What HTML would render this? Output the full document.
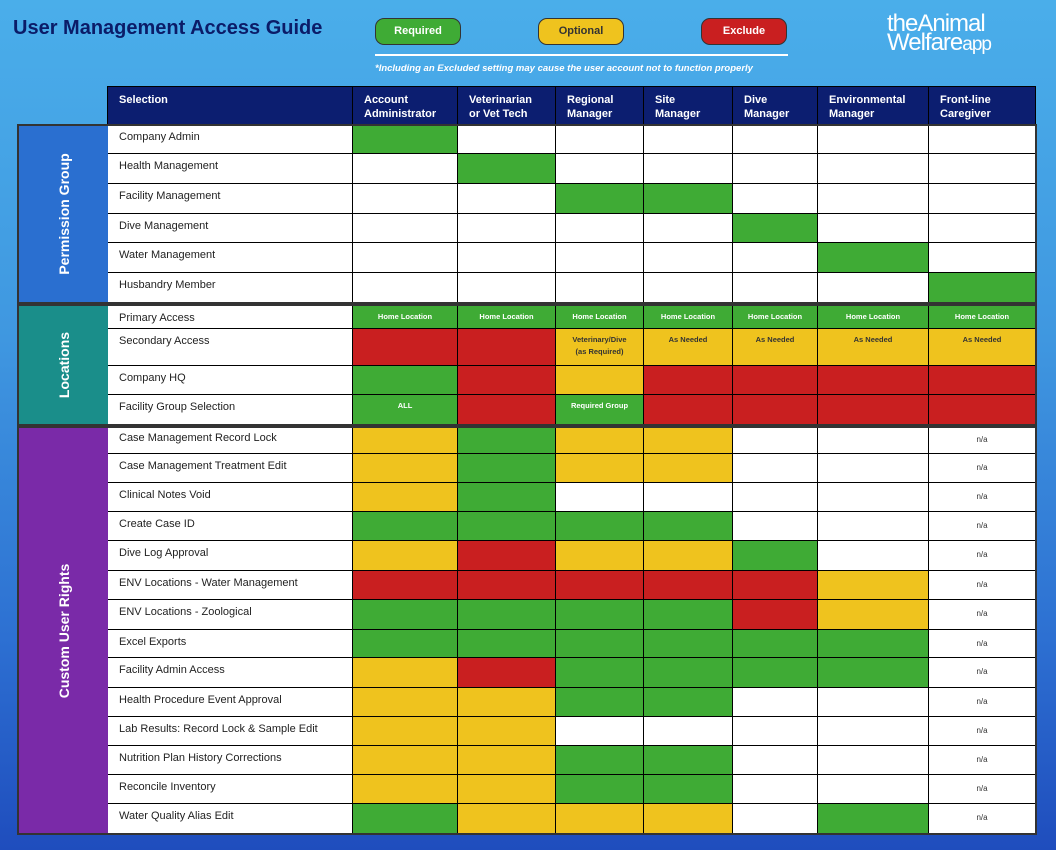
<!DOCTYPE html>
<html><head><meta charset="utf-8"><style>
*{box-sizing:border-box;margin:0;padding:0}
body{width:1056px;height:850px;overflow:hidden;font-family:"Liberation Sans",sans-serif;background:linear-gradient(180deg,#4aaeea 0%,#3f97e0 40%,#2d70d2 75%,#1f4dbd 100%);position:relative}
.abs{position:absolute}
.title{left:13px;top:17px;font-size:20px;font-weight:bold;color:#0b1c68}
.pill{top:18px;height:27px;width:86px;border-radius:9px;border:1px solid #333;font-size:11px;font-weight:bold;text-align:center;line-height:25px}
.cell{position:absolute;border:1px solid #000;font-size:11px;color:#222}
.hdr{background:#0c1e70;color:#fff;font-weight:bold;font-size:11px;padding:6px 0 0 11px;line-height:14px}
.lbl{background:#fff;padding:6px 0 0 11px}
.v{font-size:7.5px;font-weight:bold;text-align:center;padding-top:5px;line-height:12px}
.grp{position:absolute;border:2px solid #333;border-right:none;color:#fff;font-weight:bold;font-size:14px}
.grp span{position:absolute;left:50%;top:50%;transform:translate(-50%,-50%) rotate(-90deg);white-space:nowrap}
</style></head><body>
<div class="abs title">User Management Access Guide</div>
<div class="abs pill" style="left:375px;background:#3fab35;color:#fff">Required</div>
<div class="abs pill" style="left:538px;background:#efc31e;color:#333">Optional</div>
<div class="abs pill" style="left:701px;background:#c91f20;color:#fff">Exclude</div>
<div class="abs" style="left:375px;top:54px;width:413px;height:2px;background:#fff"></div>
<div class="abs" style="left:375px;top:63px;font-size:9.5px;font-style:italic;font-weight:bold;color:#fff">*Including an Excluded setting may cause the user account not to function properly</div>
<div class="abs" style="left:887px;top:14px;color:#fff;font-size:24px;line-height:19px;letter-spacing:-1px">theAnimal<br>Welfare<span style="font-size:19px">app</span></div>
<div id="t"></div>
<script>
const cols=[107,352,457,555,643,732,817,928,1035];
const headers=["Selection","Account<br>Administrator","Veterinarian<br>or Vet Tech","Regional<br>Manager","Site<br>Manager","Dive<br>Manager","Environmental<br>Manager","Front-line<br>Caregiver"];
const rowsY=[124,153,183,213,242,272,302,305,328,365,394,425,425,453,482,511,540,570,599,629,657,687,716,745,774,803,833];
const C={G:"#3fab35",R:"#c91f20",Y:"#efc31e",W:"#fff"};
const permLabels=["Company Admin","Health Management","Facility Management","Dive Management","Water Management","Husbandry Member"];
const permVals=["GWWWWWW","WGWWWWW","WWGGWWW","WWWWGWW","WWWWWGW","WWWWWWG"];
const locLabels=["Primary Access","Secondary Access","Company HQ","Facility Group Selection"];
const locVals=["GGGGGGG","RRYYYYY","GRYRRRR","GRGRRRR"];
const locText=[["Home Location","Home Location","Home Location","Home Location","Home Location","Home Location","Home Location"],["","","Veterinary/Dive<br>(as Required)","As Needed","As Needed","As Needed","As Needed"],["","","","","","",""],["ALL","","Required Group","","","",""]];
const custLabels=["Case Management Record Lock","Case Management Treatment Edit","Clinical Notes Void","Create Case ID","Dive Log Approval","ENV Locations - Water Management","ENV Locations - Zoological","Excel Exports","Facility Admin Access","Health Procedure Event Approval","Lab Results: Record Lock & Sample Edit","Nutrition Plan History Corrections","Reconcile Inventory","Water Quality Alias Edit"];
const custVals=["YGYYWWN","YGYYWWN","YGWWWWN","GGGGWWN","YRYYGWN","RRRRRYN","GGGGRYN","GGGGGGN","YRGGGGN","YYGGWWN","YYWWWWN","YYGGWWN","YYGGWWN","GYYYWGN"];
const t=document.getElementById('t');
function cell(x,y,w,h,cls,html,bg,name){const d=document.createElement('div');d.className='cell '+cls;


d.style.cssText=`left:${x}px;top:${y}px;width:${w+1}px;height:${h+1}px;background:${bg||'#fff'}`;d.innerHTML=html;t.appendChild(d);return d;}
headers.forEach((h,i)=>cell(cols[i],86,cols[i+1]-cols[i],38,'hdr',h,'#0c1e70','column-header'));
function section(labels,vals,texts,y0){
 labels.forEach((l,r)=>{const y=rowsY[y0+r],h=rowsY[y0+r+1]-y;
  cell(cols[0],y,cols[1]-cols[0],h,'lbl',l,'#fff','row-label');
  for(let c=0;c<7;c++){const k=vals[r][c];const txt=k==='N'?'n/a':(texts?texts[r][c]:'');
   const d=cell(cols[c+1],y,cols[c+2]-cols[c+1],h,'v',txt,k==='N'?'#fff':C[k],'access-cell');
   d.style.color=(k==='Y'||k==='N')?'#333':'#fff';if(k==='N'){d.style.fontWeight='normal';d.style.paddingTop='8px';d.style.fontSize='8px'}}
 });}
section(permLabels,permVals,null,0);
section(locLabels,locVals,locText,7);
section(custLabels,custVals,null,12);
function grp(name,label,y1,y2,bg){const g=document.createElement('div');g.className='grp';


g.style.cssText=`left:17px;top:${y1}px;width:91px;height:${y2-y1}px;background:${bg}`;g.innerHTML='<span>'+label+'</span>';t.appendChild(g);
const b=document.createElement('div');b.style.cssText=`position:absolute;left:17px;top:${y1}px;width:1020px;height:${y2-y1}px;border:2px solid #333;pointer-events:none`;


t.appendChild(b);}
grp('permission-group','Permission Group',124,304,'#2a6fd0');
grp('locations-group','Locations',304,426,'#1a8e8a');
grp('custom-user-rights-group','Custom User Rights',426,835,'#7a2aa8');
</script>
</body></html>
